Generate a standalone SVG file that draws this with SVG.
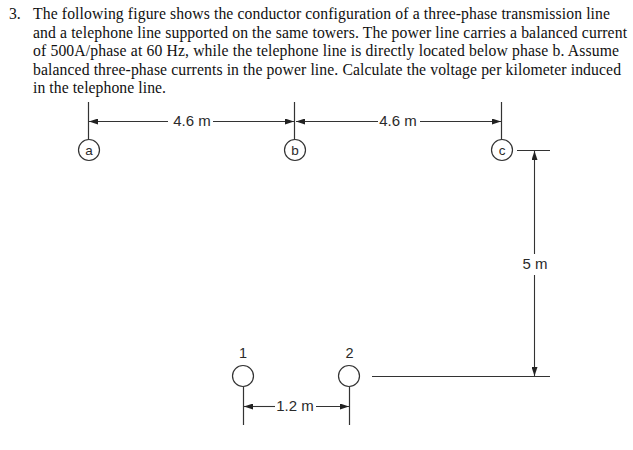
<svg xmlns="http://www.w3.org/2000/svg" width="633" height="450" viewBox="0 0 633 450">
<style>
.q{font-family:"Liberation Serif","Times New Roman",serif;font-size:15.7px;fill:#111}
.l{font-family:"Liberation Sans",Arial,sans-serif;font-size:15px;fill:#2a2a2a;text-anchor:middle}
.s{font-size:13.5px}
.n{font-size:14.5px}
.c{fill:#fff;stroke:#333;stroke-width:1.2}
.w{stroke:#333;stroke-width:1.2;fill:none}
.d{stroke:#333;stroke-width:1.1;fill:none}
.e{marker-end:url(#a)}
</style>
<defs><marker id="a" markerUnits="userSpaceOnUse" markerWidth="9" markerHeight="6" refX="9" refY="3" orient="auto"><path d="M0 0L9 3L0 6Z" fill="#222"/></marker></defs>
<rect width="633" height="450" fill="#fff"/>
<g id="question">
<text class="q" x="9" y="19">3.</text>
<text class="q" x="33" y="19" textLength="577" lengthAdjust="spacing">The following figure shows the conductor configuration of a three-phase transmission line</text>
<text class="q" x="33" y="38" textLength="594" lengthAdjust="spacing">and a telephone line supported on the same towers. The power line carries a balanced current</text>
<text class="q" x="33" y="56" textLength="586" lengthAdjust="spacing">of 500A/phase at 60 Hz, while the telephone line is directly located below phase b. Assume</text>
<text class="q" x="33" y="75" textLength="588" lengthAdjust="spacing">balanced three-phase currents in the power line. Calculate the voltage per kilometer induced</text>
<text class="q" x="33" y="93" textLength="133" lengthAdjust="spacing">in the telephone line.</text>
</g>
<g id="connectors">
<path class="w" d="M88.500 102V140M294.500 102V140M501.500 102V140M243.500 387V425M349.500 387V425M517 150.500H550M372 376.500H550"/>
<path class="d e" d="M168 121.500H89"/>
<path class="d e" d="M213 121.500H294"/>
<path class="d e" d="M378 121.500H296"/>
<path class="d e" d="M420 121.500H501"/>
<path class="d e" d="M534.500 254V151"/>
<path class="d e" d="M534.500 275V376"/>
<path class="d e" d="M275 406.500H244"/>
<path class="d e" d="M316 406.500H349"/>
</g>
<g id="a-node"><circle class="c" cx="89" cy="150" r="10.5"/><text class="l s" x="89" y="155">a</text></g>
<g id="b-node"><circle class="c" cx="295" cy="150" r="10.5"/><text class="l s" x="295" y="155">b</text></g>
<g id="c-node"><circle class="c" cx="502" cy="150" r="10.5"/><text class="l s" x="502" y="155">c</text></g>
<g id="wire-1"><circle class="c" cx="243" cy="376" r="10.5"/><text class="l n" x="243" y="358">1</text></g>
<g id="wire-2"><circle class="c" cx="349" cy="376" r="10.5"/><text class="l n" x="349.500" y="358">2</text></g>
<g id="labels">
<text class="l" x="192" y="126">4.6 m</text>
<text class="l" x="398" y="126">4.6 m</text>
<text class="l" x="535" y="269">5 m</text>
<text class="l" x="295" y="411">1.2 m</text>
</g>
</svg>
